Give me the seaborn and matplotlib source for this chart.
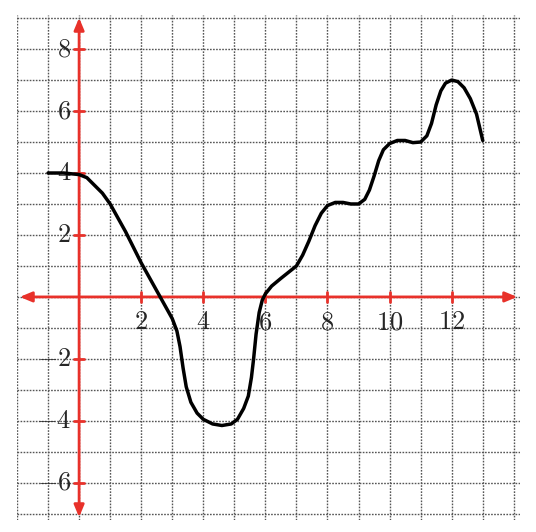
import matplotlib
matplotlib.use("Agg")
import matplotlib.pyplot as plt
import seaborn as sns
import pandas as pd

sns.set_theme(style="white")
plt.rcParams['mathtext.fontset'] = 'cm'

x_vals = [-1, -0.5, 0, 0.25, 0.5, 0.75, 1, 1.5, 2, 2.5, 3, 3.15, 3.25, 3.35, 3.45, 3.6, 3.8, 4, 4.3, 4.6, 4.9, 5.1, 5.3, 5.45, 5.55,
          5.62, 5.7, 5.8, 5.9, 6, 6.2, 6.5, 7, 7.2, 7.4, 7.6, 7.8, 8, 8.25, 8.5, 8.75, 9, 9.2, 9.35, 9.5, 9.65, 9.8,
          10, 10.25, 10.5, 10.75, 11, 11.2, 11.35, 11.5, 11.65, 11.8, 12, 12.2, 12.4, 12.6, 12.8, 13]
y_vals = [4.0, 4.0, 3.95, 3.85, 3.6, 3.35, 3.0, 2.1, 1.1, 0.2, -0.7, -1.1, -1.6, -2.3, -2.9, -3.4, -3.75, -3.95, -4.1, -4.15, -4.1, -3.95, -3.6, -3.2, -2.6,
          -2.0, -1.2, -0.5, -0.1, 0.1, 0.35, 0.6, 1.0, 1.35, 1.8, 2.3, 2.7, 2.95, 3.05, 3.05, 3.0, 3.0, 3.15, 3.45, 3.9, 4.4, 4.75,
          4.95, 5.05, 5.05, 4.98, 5.0, 5.2, 5.6, 6.2, 6.65, 6.9, 7.0, 6.95, 6.75, 6.4, 5.9, 5.05]
x_ticks = [2, 4, 6, 8, 10, 12]
y_ticks = [-6, -4, -2, 2, 4, 6, 8]

df = pd.DataFrame({"x": x_vals, "y": y_vals})

fig = plt.figure(figsize=(5.36, 5.32), dpi=100)
ax = fig.add_axes([17/536, 12/532, 503/536, 505/532])
xmin, xmax, ymin, ymax = -2, 14.2, -7.2, 9.1
ax.set_xlim(xmin, xmax); ax.set_ylim(ymin, ymax)
for s in ax.spines.values():
    s.set_visible(False)
ax.set_xticks([]); ax.set_yticks([])
for gx in range(-2, 15):
    ax.axvline(gx, color="#555555", lw=1.0, ls=(0, (1.2, 1.0)), zorder=0)
for gy in range(-7, 10):
    ax.axhline(gy, color="#555555", lw=1.0, ls=(0, (1.2, 1.0)), zorder=0)

red = "#e8312a"
ax.annotate("", xy=(xmax, 0), xytext=(xmin, 0), arrowprops=dict(arrowstyle="<|-|>,head_length=0.6,head_width=0.25", color=red, lw=2))
ax.annotate("", xy=(0, ymax), xytext=(0, ymin), arrowprops=dict(arrowstyle="<|-|>,head_length=0.6,head_width=0.25", color=red, lw=2))
for t in x_ticks:
    ax.plot([t, t], [-0.15, 0.15], color=red, lw=2)
    ax.text(t, -0.4, f"${t}$", ha="center", va="top", fontsize=19)
for t in y_ticks:
    ax.plot([-0.15, 0.15], [t, t], color=red, lw=2)
    ax.text(-0.25, t, f"${t}$", ha="right", va="center", fontsize=19)

sns.lineplot(data=df, x="x", y="y", ax=ax, color="black", lw=2.5, sort=False, zorder=5)
ax.set_xlabel(""); ax.set_ylabel("")
fig.savefig("out.png", dpi=100)
